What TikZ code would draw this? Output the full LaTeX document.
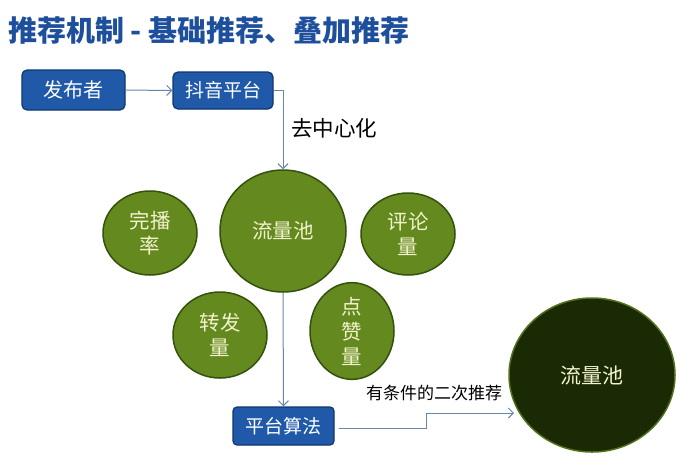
\documentclass[tikz,border=0pt]{standalone}
\usepackage{fontspec}
\newfontfamily\cjk{Noto Sans CJK SC}
\usetikzlibrary{shapes.geometric,arrows.meta}
\definecolor{titleblue}{HTML}{1E4F9C}
\definecolor{boxblue}{HTML}{1F59A8}
\definecolor{boxedge}{HTML}{0F3670}
\definecolor{leaf}{HTML}{63891F}
\definecolor{leafedge}{HTML}{34520C}
\definecolor{cream}{HTML}{F2F2CC}
\definecolor{darkpool}{HTML}{1A2A05}
\definecolor{darkedge}{HTML}{55701A}
\definecolor{wire}{HTML}{6786AA}
\tikzset{
  bluebox/.style={draw=boxedge, line width=1.2pt, fill=boxblue, rounded corners=5pt,
    text=white, font=\cjk\fontsize{19}{22}\selectfont, inner sep=0pt},
  leafnode/.style={ellipse, draw=leafedge, line width=1.5pt, fill=leaf, text=cream,
    inner sep=0pt, align=center, font=\cjk\fontsize{20.5}{25}\selectfont},
  wirearrow/.style={draw=wire, line width=1pt, -{Straight Barb[length=5pt,width=10pt]}},
  plainlabel/.style={text=black, font=\cjk\fontsize{21.5}{24}\selectfont, inner sep=0pt}
}
\begin{document}
\begin{tikzpicture}[x=1pt,y=-1pt]
\useasboundingbox[fill=white] (0,0) rectangle (690,475);
\node[anchor=west, text=titleblue, font=\cjk\bfseries\fontsize{29}{32}\selectfont, inner sep=0pt] (title) at (8,31) {推荐机制 - 基础推荐、叠加推荐};
\node[bluebox, minimum width=103pt, minimum height=40pt, font=\cjk\fontsize{20}{22}\selectfont] (pub) at (73.5,90) {发布者};
\node[bluebox, minimum width=100pt, minimum height=37pt] (douyin) at (223,90.5) {抖音平台};
\node[leafnode, minimum width=126pt, minimum height=122pt] (pool) at (283,231) {流量池};
\node[leafnode, minimum width=94pt, minimum height=84pt] (wanbo) at (150,233) {完播\\率};
\node[leafnode, minimum width=94pt, minimum height=82pt] (pinglun) at (408,234) {评论\\量};
\node[leafnode, minimum width=94pt, minimum height=86pt] (zhuanfa) at (220,335) {转发\\量};
\node[leafnode, minimum width=84pt, minimum height=76pt] (dianzan) at (352,331) {点\\赞\\量};
\node[bluebox, rounded corners=4pt, minimum width=101pt, minimum height=38pt] (algo) at (283.5,426) {平台算法};
\node[ellipse, draw=darkedge, line width=1.5pt, fill=darkpool, text=cream, inner sep=0pt,
  minimum width=166pt, minimum height=154pt, font=\cjk\fontsize{21}{24}\selectfont] (dark) at (592,375) {流量池};
\node[plainlabel, anchor=west] (decent) at (291,128) {去中心化};
\node[plainlabel, anchor=west, font=\cjk\fontsize{17}{20}\selectfont] (cond) at (366,393) {有条件的二次推荐};
\coordinate (tgt) at (514,413);
\draw[wirearrow] (pub.east) -- (douyin.west);
\draw[wirearrow] (douyin.east) -| (pool.north);
\draw[wirearrow] (pool.south) -- (algo.north);
\draw[wirearrow] (algo.east) ++(4,2) -- ++(88,0) |- (tgt);
\end{tikzpicture}
\end{document}
